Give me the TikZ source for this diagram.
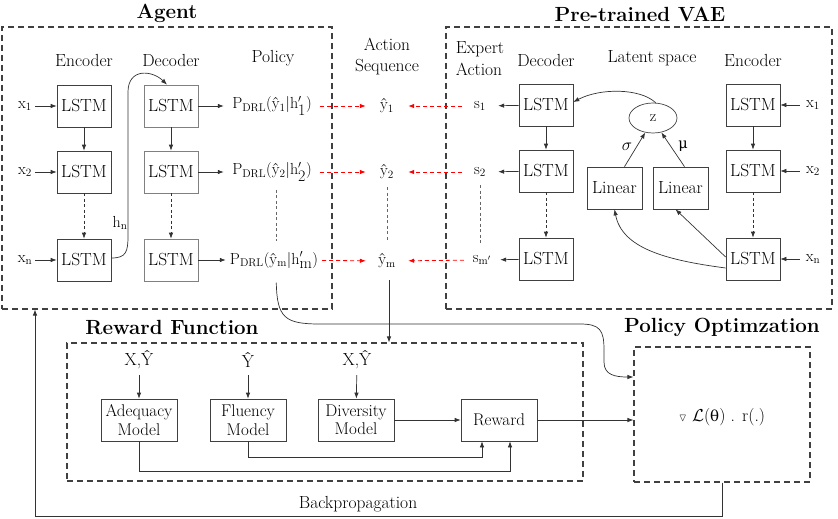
\documentclass[tikz,border=0pt]{standalone}
\usepackage{fontspec}
\newfontfamily\gk{DejaVu Serif}
\usepackage{amssymb}
\usetikzlibrary{arrows.meta,shapes.geometric}
\begin{document}
\begin{tikzpicture}[x=1pt,y=-1pt,
 every node/.style={font=\fontsize{16}{18}\selectfont, inner sep=0pt},
 big/.style={font=\fontsize{17.5}{20}\selectfont},
 box/.style={draw=black!75, line width=0.7pt, minimum width=54pt, minimum height=42pt, big},
 lbox/.style={box, draw=black!50},
 rbox/.style={box, minimum width=76pt, align=center, font=\fontsize{17}{18.5}\selectfont},
 group/.style={draw=black!75, line width=1.1pt, dash pattern=on 6pt off 4pt},
 title/.style={font=\fontsize{20.5}{24}\selectfont\bfseries},
 arr/.style={-{Latex[length=6pt,width=4.5pt]}, draw=black!80, line width=0.7pt},
 darr/.style={arr, dash pattern=on 3pt off 2.5pt},
 dline/.style={draw=black!60, line width=0.6pt, dash pattern=on 3pt off 2.5pt},
 rarr/.style={-{Latex[length=6pt,width=4.5pt]}, draw=red, line width=0.8pt, dash pattern=on 4pt off 3pt},
 ynode/.style={minimum width=42pt},
 snode/.style={minimum width=36pt},
 pnode/.style={minimum width=96pt},
 inl/.style={minimum width=20pt},
 inr/.style={minimum width=26pt},
 rin/.style={minimum height=30pt, big}
]
\useasboundingbox (0,0) rectangle (838,519);

% group frames
\node[group, minimum width=330pt, minimum height=282pt] (agent) at (167,168) {};
\node[group, minimum width=386pt, minimum height=282pt] (vae) at (639,168) {};
\node[group, minimum width=516pt, minimum height=138pt] (rf) at (325,412) {};
\node[group, minimum width=176pt, minimum height=135pt] (po) at (722,414.5) {};

% titles
\node[title] (tagent) at (167,13) {Agent};
\node[title] (tvae) at (640,14) {Pre-trained VAE};
\node[title] (trf) at (172,328) {Reward Function};
\node[title] (tpo) at (722,327) {Policy Optimzation};

% Agent column labels
\node[big] (lenc) at (84,60) {Encoder};
\node[big] (ldec) at (171,60) {Decoder};
\node[big] (lpol) at (273,58) {Policy};
\node[big, align=center] (lact) at (387,57) {Action\\[1pt]Sequence};

% Agent encoder
\node[box] (ae1) at (84,106) {LSTM};
\node[box] (ae2) at (84,172) {LSTM};
\node[box] (ae3) at (84,260) {LSTM};
\node[inl] (ax1) at (25,106) {x\textsubscript{1}};
\node[inl] (ax2) at (25,172) {x\textsubscript{2}};
\node[inl] (ax3) at (25,260) {x\textsubscript{n}};
\draw[arr] (ax1) -- (ae1);
\draw[arr] (ax2) -- (ae2);
\draw[arr] (ax3) -- (ae3);
\draw[arr] (ae1) -- (ae2);
\draw[darr] (ae2) -- (ae3);

% Agent decoder
\node[lbox] (ad1) at (171,106) {LSTM};
\node[lbox] (ad2) at (171,172) {LSTM};
\node[lbox] (ad3) at (171,260) {LSTM};
\draw[arr] (ad1) -- (ad2);
\draw[darr] (ad2) -- (ad3);

% hn connection
\node (hn) at (120,223) {h\textsubscript{n}};
\draw[arr] ([yshift=2pt]ae3.east) .. controls (126,258) and (128,252) .. (128,236) -- (128,92) .. controls (128,68) and (152,70) .. ([xshift=-4pt]ad1.north);

% policy
\node[pnode] (p1) at (272,106) {P\textsubscript{DRL}(ŷ\textsubscript{1}|h$'_{\textrm{1}}$)};
\node[pnode] (p2) at (272,172) {P\textsubscript{DRL}(ŷ\textsubscript{2}|h$'_{\textrm{2}}$)};
\node[pnode] (p3) at (274,260) {P\textsubscript{DRL}(ŷ\textsubscript{m}|h$'_{\textrm{m}}$)};
\draw[arr] (ad1) -- (p1);
\draw[arr] (ad2) -- (p2);
\draw[arr] (ad3) -- (p3);
\draw[dline, shorten <=8pt, shorten >=10pt] (p2.south -| 276,0) -- (p3.north -| 276,0);

% action sequence
\node[ynode] (y1) at (387,106) {ŷ\textsubscript{1}};
\node[ynode] (y2) at (387,172) {ŷ\textsubscript{2}};
\node[ynode] (y3) at (387,261) {ŷ\textsubscript{m}};
\draw[dline, shorten <=8pt, shorten >=12pt] (y2) -- (y3);
\draw[rarr] (p1) -- (y1);
\draw[rarr] (p2) -- (y2);
\draw[rarr] (p3) -- (y3);

% VAE labels
\node[big, align=left] (lexp) at (480,59) {Expert\\[2pt]Action};
\node[big] (lvdec) at (546,60) {Decoder};
\node[big] (llat) at (652,58) {Latent space};
\node[big] (lvenc) at (753,60) {Encoder};

% VAE decoder
\node[box] (vd1) at (546,105) {LSTM};
\node[box] (vd2) at (546,171) {LSTM};
\node[box] (vd3) at (546,259) {LSTM};
\draw[arr] (vd1) -- (vd2);
\draw[darr] (vd2) -- (vd3);
\node[snode] (s1) at (480,106) {s\textsubscript{1}};
\node[snode] (s2) at (480,172) {s\textsubscript{2}};
\node[snode] (s3) at (482,260) {s\textsubscript{m$'$}};
\draw[arr] (vd1) -- (s1);
\draw[arr] (vd2) -- (s2);
\draw[arr] (vd3) -- (s3);
\draw[dline, shorten <=8pt, shorten >=10pt] (s2.south -| 480,0) -- (s3.north -| 480,0);
\draw[rarr] (s1) -- (y1);
\draw[rarr] (s2) -- (y2);
\draw[rarr] (s3) -- (y3);

% VAE encoder
\node[box] (ve1) at (753,105) {LSTM};
\node[box] (ve2) at (753,171) {LSTM};
\node[box] (ve3) at (753,259) {LSTM};
\node[inr] (vx1) at (813,105) {x\textsubscript{1}};
\node[inr] (vx2) at (813,171) {x\textsubscript{2}};
\node[inr] (vx3) at (813,259) {x\textsubscript{n}};
\draw[arr] (vx1) -- (ve1);
\draw[arr] (vx2) -- (ve2);
\draw[arr] (vx3) -- (ve3);
\draw[arr] (ve1) -- (ve2);
\draw[darr] (ve2) -- (ve3);

% latent
\node[draw=black!75, line width=0.7pt, ellipse, minimum width=48pt, minimum height=30pt] (z) at (653,118) {z};
\node[box, minimum width=55pt] (ll) at (614.5,188) {Linear};
\node[box, minimum width=55pt] (lr) at (680.5,188) {Linear};
\draw[arr] ([xshift=10pt]ll.north) -- (z.-118);
\draw[arr] ([xshift=4pt]lr.north) -- (z.-60);
\node[big] (sig) at (627,147) {$\sigma$};
\node (mu) at (683,146) {{\gk\fontsize{14.5}{16}\selectfont μ}};
\draw[arr] (z.80) .. controls (640,88) and (600,88) .. ([yshift=3pt]vd1.east);
\draw[arr] ([yshift=2pt]ve3.west) -- ([xshift=-5pt]lr.south);
\draw[arr] ([yshift=-9pt]ve3.west) .. controls (665,260) and (622,248) .. (ll.south);

% Reward function
\node[rin] (in1) at (139,360) {X,Ŷ};
\node[rin] (in2) at (248,360) {Ŷ};
\node[rin] (in3) at (357,360) {X,Ŷ};
\node[rbox] (ade) at (139,420) {Adequacy\\Model};
\node[rbox] (flu) at (248,420) {Fluency\\Model};
\node[rbox] (div) at (356,420) {Diversity\\Model};
\node[rbox] (rew) at (499,420) {Reward};
\draw[arr] (in1) -- (ade);
\draw[arr] (in2) -- (flu);
\draw[arr] (in3) -- (div);
\draw[arr] (div) -- (rew);
\draw[arr] (flu.south) |- ([xshift=-17pt,yshift=-16pt]rew.south) -- ([xshift=-17pt]rew.south);
\draw[arr] (ade.south) |- ([xshift=11pt,yshift=-30pt]rew.south) -- ([xshift=11pt]rew.south);

% sequence to reward
\draw[arr, shorten <=12pt] (y3.south -| 389,0) -- (rf.north -| 389,0);

% policy to optimization
\draw[arr, shorten <=14pt] (p3.south -| 276,0) .. controls (277,318) and (285,324) .. (320,324) -- (580,324) .. controls (600,324) and (604,330) .. (604,350) -- (604,362) .. controls (604,375) and (615,377) .. (po.west |- 0,377);

% reward to optimization
\draw[arr] (rew.east) -- (rew.east -| po.west);
\node[big] (grad) at (722,417) {{\fontsize{11}{12}\selectfont$\triangledown$} $\mathcal{L}$({\gk\fontsize{15}{16}\selectfont θ}) . r(.)};

% backpropagation
\coordinate (bpc) at (35,516);
\draw[arr] (po.south) |- (bpc) -- (bpc |- agent.south);
\node[big] (bp) at (358,504) {Backpropagation};
\end{tikzpicture}
\end{document}
